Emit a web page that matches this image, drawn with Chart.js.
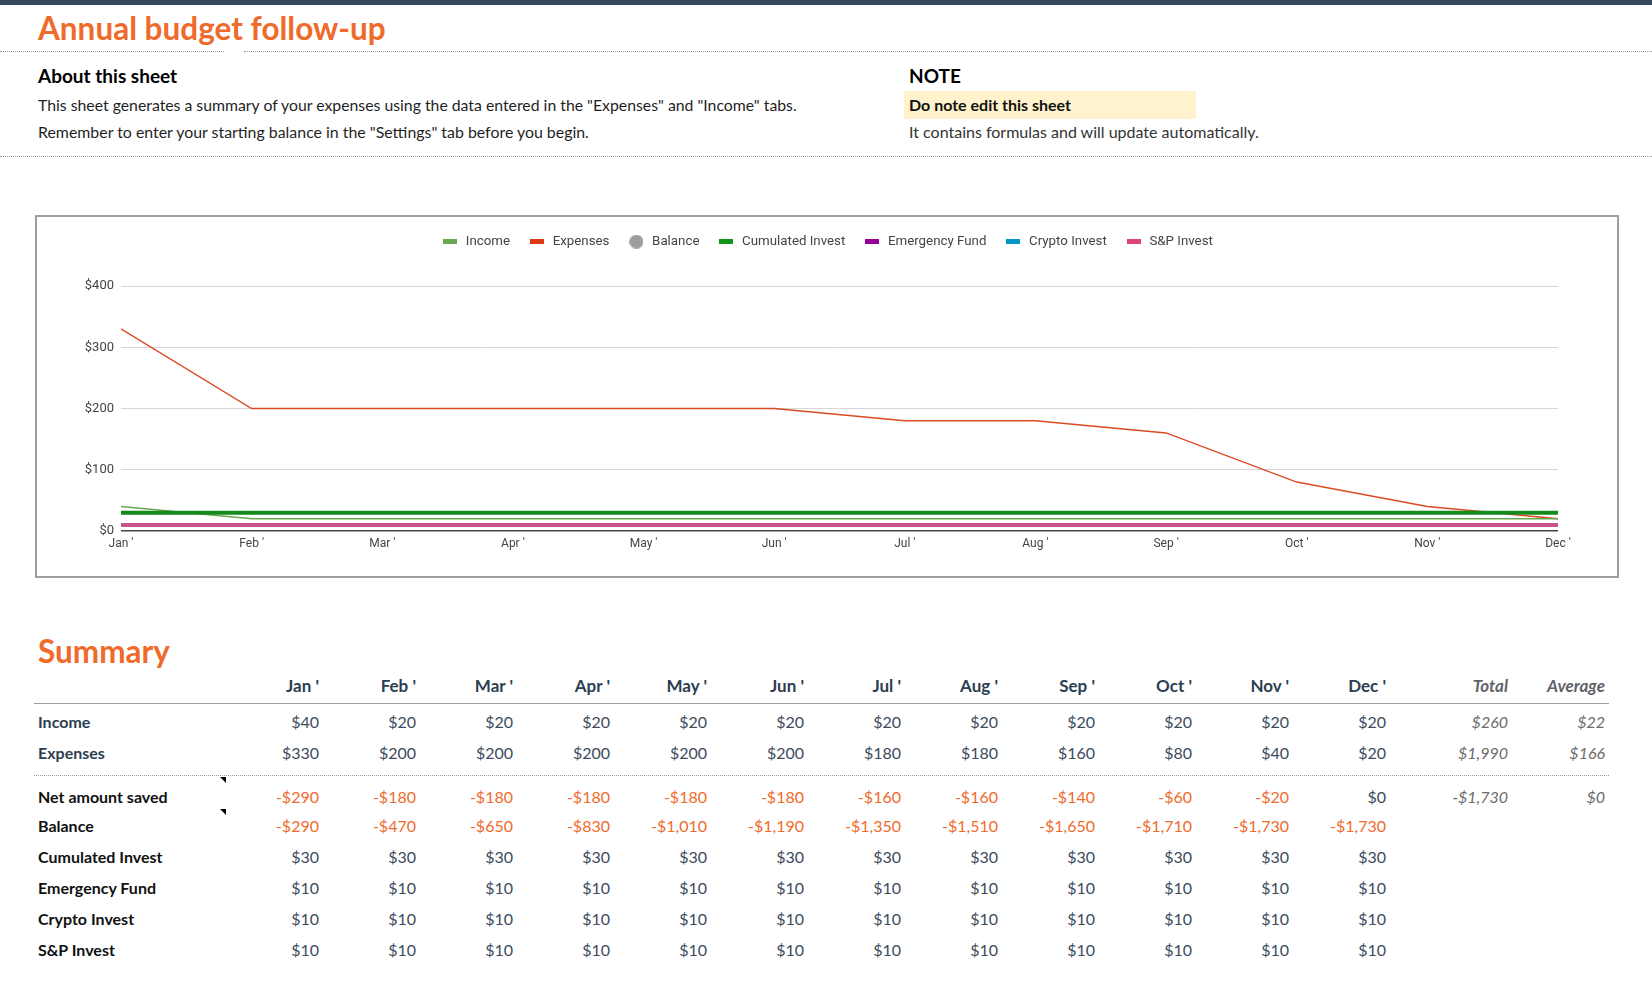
<!DOCTYPE html>
<html>
<head>
<meta charset="utf-8">
<script src="https://cdn.jsdelivr.net/npm/chart.js@4/dist/chart.umd.min.js"></script>
<style>
  html, body { margin:0; padding:0; background:#fff; }
  body { width:1652px; height:1006px; position:relative; overflow:hidden; font-family: Lato, "Open Sans", sans-serif; }
  .abs { position:absolute; white-space:nowrap; }
  .topbar { position:absolute; left:0; top:0; width:1652px; height:5px; background:#34495e; }
  .dot { position:absolute; height:0; border-top:1px dotted #9a9a9a; }
  .h1 { font-weight:700; font-size:31.5px; line-height:32px; height:32px; color:#ef6b2b; }
  .h2 { font-weight:700; font-size:19px; line-height:19px; height:19px; color:#000; }
  .p { font-size:15.8px; line-height:16px; height:16px; color:#1f1f1f; }
  .note { position:absolute; left:904px; top:91px; width:292px; height:28px; background:#fff2cc; }
  .chartbox { position:absolute; left:35px; top:215px; width:1580px; height:359px; border:2px solid #9e9e9e; }
  #chart { position:absolute; left:37px; top:217px; }
  .cell { position:absolute; white-space:nowrap; font-size:16px; line-height:16px; height:16px; }
  .tri { position:absolute; width:0; height:0; border-top:6px solid #000; border-left:6px solid transparent; }
</style>
</head>
<body>
<div class="topbar"></div>
<div class="abs h1" style="left:38px; top:12px;">Annual budget follow-up</div>
<div class="dot" style="left:0; top:51px; width:224px;"></div>
<div class="dot" style="left:244px; top:51px; width:1408px;"></div>

<div class="abs h2" style="left:38px; top:66px;">About this sheet</div>
<div class="abs p" style="left:38px; top:97px;">This sheet generates a summary of your expenses using the data entered in the "Expenses" and "Income" tabs.</div>
<div class="abs p" style="left:38px; top:124px; font-size:15.9px;">Remember to enter your starting balance in the "Settings" tab before you begin.</div>

<div class="abs h2" style="left:909px; top:66px;">NOTE</div>
<div class="note"></div>
<div class="abs p" style="left:909px; top:97px; font-weight:700; font-size:16px; color:#111;">Do note edit this sheet</div>
<div class="abs p" style="left:909px; top:124px; font-size:16px; color:#333;">It contains formulas and will update automatically.</div>
<div class="dot" style="left:0; top:156px; width:1652px;"></div>

<div class="chartbox"></div>
<canvas id="chart" width="1580" height="359" style="width:1580px;height:359px;"></canvas>

<div class="abs h1" style="left:38px; top:635px;">Summary</div>
<div id="table"></div>

<script>
// ---- data ----
const months = ["Jan '", "Feb '", "Mar '", "Apr '", "May '", "Jun '", "Jul '", "Aug '", "Sep '", "Oct '", "Nov '", "Dec '"];
const income = [40, 20, 20, 20, 20, 20, 20, 20, 20, 20, 20, 20];
const expenses = [330, 200, 200, 200, 200, 200, 180, 180, 160, 80, 40, 20];
const netSaved = [-290, -180, -180, -180, -180, -180, -160, -160, -140, -60, -20, 0];
const balance = [-290, -470, -650, -830, -1010, -1190, -1350, -1510, -1650, -1710, -1730, -1730];
const cumulatedInvest = [30, 30, 30, 30, 30, 30, 30, 30, 30, 30, 30, 30];
const emergencyFund = [10, 10, 10, 10, 10, 10, 10, 10, 10, 10, 10, 10];
const cryptoInvest = [10, 10, 10, 10, 10, 10, 10, 10, 10, 10, 10, 10];
const spInvest = [10, 10, 10, 10, 10, 10, 10, 10, 10, 10, 10, 10];
const incomeTotal = 260, incomeAverage = 22;
const expensesTotal = 1990, expensesAverage = 166;
const netTotal = -1730, netAverage = 0;
const yTicks = [0, 100, 200, 300, 400];

// ---- table ----
function fmt(v) {
  const s = '$' + Math.abs(v).toLocaleString('en-US');
  return v < 0 ? '-' + s : s;
}
const tbl = document.getElementById('table');
function addCell(text, rightX, cy, style) {
  const d = document.createElement('div');
  d.className = 'cell';
  d.textContent = text;
  d.style.top = (cy - 8) + 'px';
  if (rightX !== null) { d.style.right = (1652 - rightX) + 'px'; }
  Object.assign(d.style, style || {});
  tbl.appendChild(d);
  return d;
}
const colRight = months.map((m, i) => 319 + i * 97);
const totalRight = 1508, avgRight = 1605;
const navy = '#2c3e50', valCol = '#3d4b5c', orange = '#ef6b2b', grey = '#6b6b6b';

// header
months.forEach((m, i) => addCell(m, colRight[i], 686, {fontWeight: 700, fontSize: '17px', color: navy}));
addCell('Total', totalRight, 686, {fontStyle: 'italic', fontWeight: 700, fontSize: '17px', color: '#5f6368'});
addCell('Average', avgRight, 686, {fontStyle: 'italic', fontWeight: 700, fontSize: '17px', color: '#5f6368'});
const hl = document.createElement('div');
hl.style.cssText = 'position:absolute;left:34px;top:703px;width:1575px;height:0;border-top:1px solid #9e9e9e;';
tbl.appendChild(hl);
const dl = document.createElement('div');
dl.style.cssText = 'position:absolute;left:34px;top:775px;width:1575px;height:0;border-top:1px dotted #9a9a9a;';
tbl.appendChild(dl);
[777, 809].forEach(t => { const tr = document.createElement('div'); tr.className = 'tri'; tr.style.left = '220px'; tr.style.top = t + 'px'; tbl.appendChild(tr); });

const rows = [
  {label: 'Income', data: income, y: 722, lc: navy, total: incomeTotal, avg: incomeAverage},
  {label: 'Expenses', data: expenses, y: 753, lc: navy, total: expensesTotal, avg: expensesAverage},
  {label: 'Net amount saved', data: netSaved, y: 797, lc: '#111', total: netTotal, avg: netAverage},
  {label: 'Balance', data: balance, y: 826, lc: '#111'},
  {label: 'Cumulated Invest', data: cumulatedInvest, y: 857, lc: '#111'},
  {label: 'Emergency Fund', data: emergencyFund, y: 888, lc: '#111'},
  {label: 'Crypto Invest', data: cryptoInvest, y: 919, lc: '#111'},
  {label: 'S&P Invest', data: spInvest, y: 950, lc: '#111'}
];
rows.forEach(r => {
  addCell(r.label, null, r.y, {left: '38px', fontWeight: 700, color: r.lc});
  r.data.forEach((v, i) => addCell(fmt(v), colRight[i], r.y, {color: v < 0 ? orange : valCol}));
  if (r.total !== undefined) {
    addCell(fmt(r.total), totalRight, r.y, {fontStyle: 'italic', color: grey});
    addCell(fmt(r.avg), avgRight, r.y, {fontStyle: 'italic', color: grey});
  }
});

// ---- chart ----
function markerRect(color) {
  const c = document.createElement('canvas'); c.width = 14; c.height = 5;
  const x = c.getContext('2d'); x.fillStyle = color; x.fillRect(0, 0, 14, 5); return c;
}
function markerCircle(color) {
  const c = document.createElement('canvas'); c.width = 14; c.height = 14;
  const x = c.getContext('2d'); x.fillStyle = color; x.beginPath(); x.arc(7, 7, 7, 0, Math.PI * 2); x.fill(); return c;
}
const datasets = [
  {label: 'Income', data: income, borderColor: '#6aa84f', legendColor: '#6aa84f', borderWidth: 1.5, order: 2, marker: 'rect'},
  {label: 'Expenses', data: expenses, borderColor: '#dc4a22', legendColor: '#dc3912', borderWidth: 1.3, order: 3, marker: 'rect'},
  {label: 'Balance', data: balance, borderColor: '#9e9e9e', legendColor: '#9e9e9e', borderWidth: 2, order: 6, marker: 'circle'},
  {label: 'Cumulated Invest', data: cumulatedInvest, borderColor: '#138a1b', legendColor: '#109618', borderWidth: 4, order: 1, marker: 'rect'},
  {label: 'Emergency Fund', data: emergencyFund, borderColor: '#990099', legendColor: '#990099', borderWidth: 4, order: 5, marker: 'rect'},
  {label: 'Crypto Invest', data: cryptoInvest, borderColor: '#0099c6', legendColor: '#0099c6', borderWidth: 4, order: 4, marker: 'rect'},
  {label: 'S&P Invest', data: spInvest, borderColor: '#c8558a', legendColor: '#dd4477', borderWidth: 4, order: 0, marker: 'rect'}
];
datasets.forEach(d => { d.pointRadius = 0; d.tension = 0; d.fill = false; d.borderCapStyle = 'butt'; });

const legendSpacer = {
  id: 'legendSpacer',
  beforeInit(chart) {
    const orig = chart.legend.fit;
    chart.legend.fit = function () { orig.call(this); this.height = 69; };
  },
  afterLayout(chart) {
    // centre the legend over the whole chart frame, not just the padded area
    chart.legend.left = 0;
    chart.legend.right = chart.width;
  }
};

new Chart(document.getElementById('chart'), {
  type: 'line',
  data: {labels: months, datasets: datasets},
  options: {
    responsive: false,
    animation: false,
    devicePixelRatio: 1,
    layout: {padding: {left: 0, right: 59, top: 0, bottom: 0}},
    plugins: {
      tooltip: {enabled: false},
      legend: {
        position: 'top',
        align: 'center',
        labels: {
          usePointStyle: true,
          pointStyleWidth: 18,
          padding: 18,
          color: '#444',
          font: {family: 'Roboto', size: 13.3},
          generateLabels(chart) {
            return chart.data.datasets.map((d, i) => ({
              text: d.label,
              fillStyle: d.legendColor,
              strokeStyle: d.legendColor,
              lineWidth: 0,
              hidden: false,
              datasetIndex: i,
              fontColor: '#444',
              pointStyle: d.marker === 'circle' ? markerCircle(d.legendColor) : markerRect(d.legendColor)
            }));
          }
        }
      }
    },
    scales: {
      x: {
        grid: {display: false, drawTicks: false},
        border: {display: false},
        ticks: {color: '#444', font: {family: 'Roboto', size: 12}, padding: 6, maxRotation: 0, autoSkip: false},
        afterFit(scale) { scale.height = 45; }
      },
      y: {
        min: 0, max: 400,
        afterBuildTicks(scale) { scale.ticks = yTicks.map(v => ({value: v})); },
        grid: {
          drawTicks: false,
          color: c => (c.tick && c.tick.value === 0) ? '#444' : '#d6d6d6',
          lineWidth: c => (c.tick && c.tick.value === 0) ? 1.5 : 1
        },
        border: {display: false},
        ticks: {color: '#444', font: {family: 'Roboto', size: 13}, padding: 7, callback: v => '$' + v},
        afterFit(scale) { scale.width = 84; }
      }
    }
  },
  plugins: [legendSpacer]
});
</script>
</body>
</html>
